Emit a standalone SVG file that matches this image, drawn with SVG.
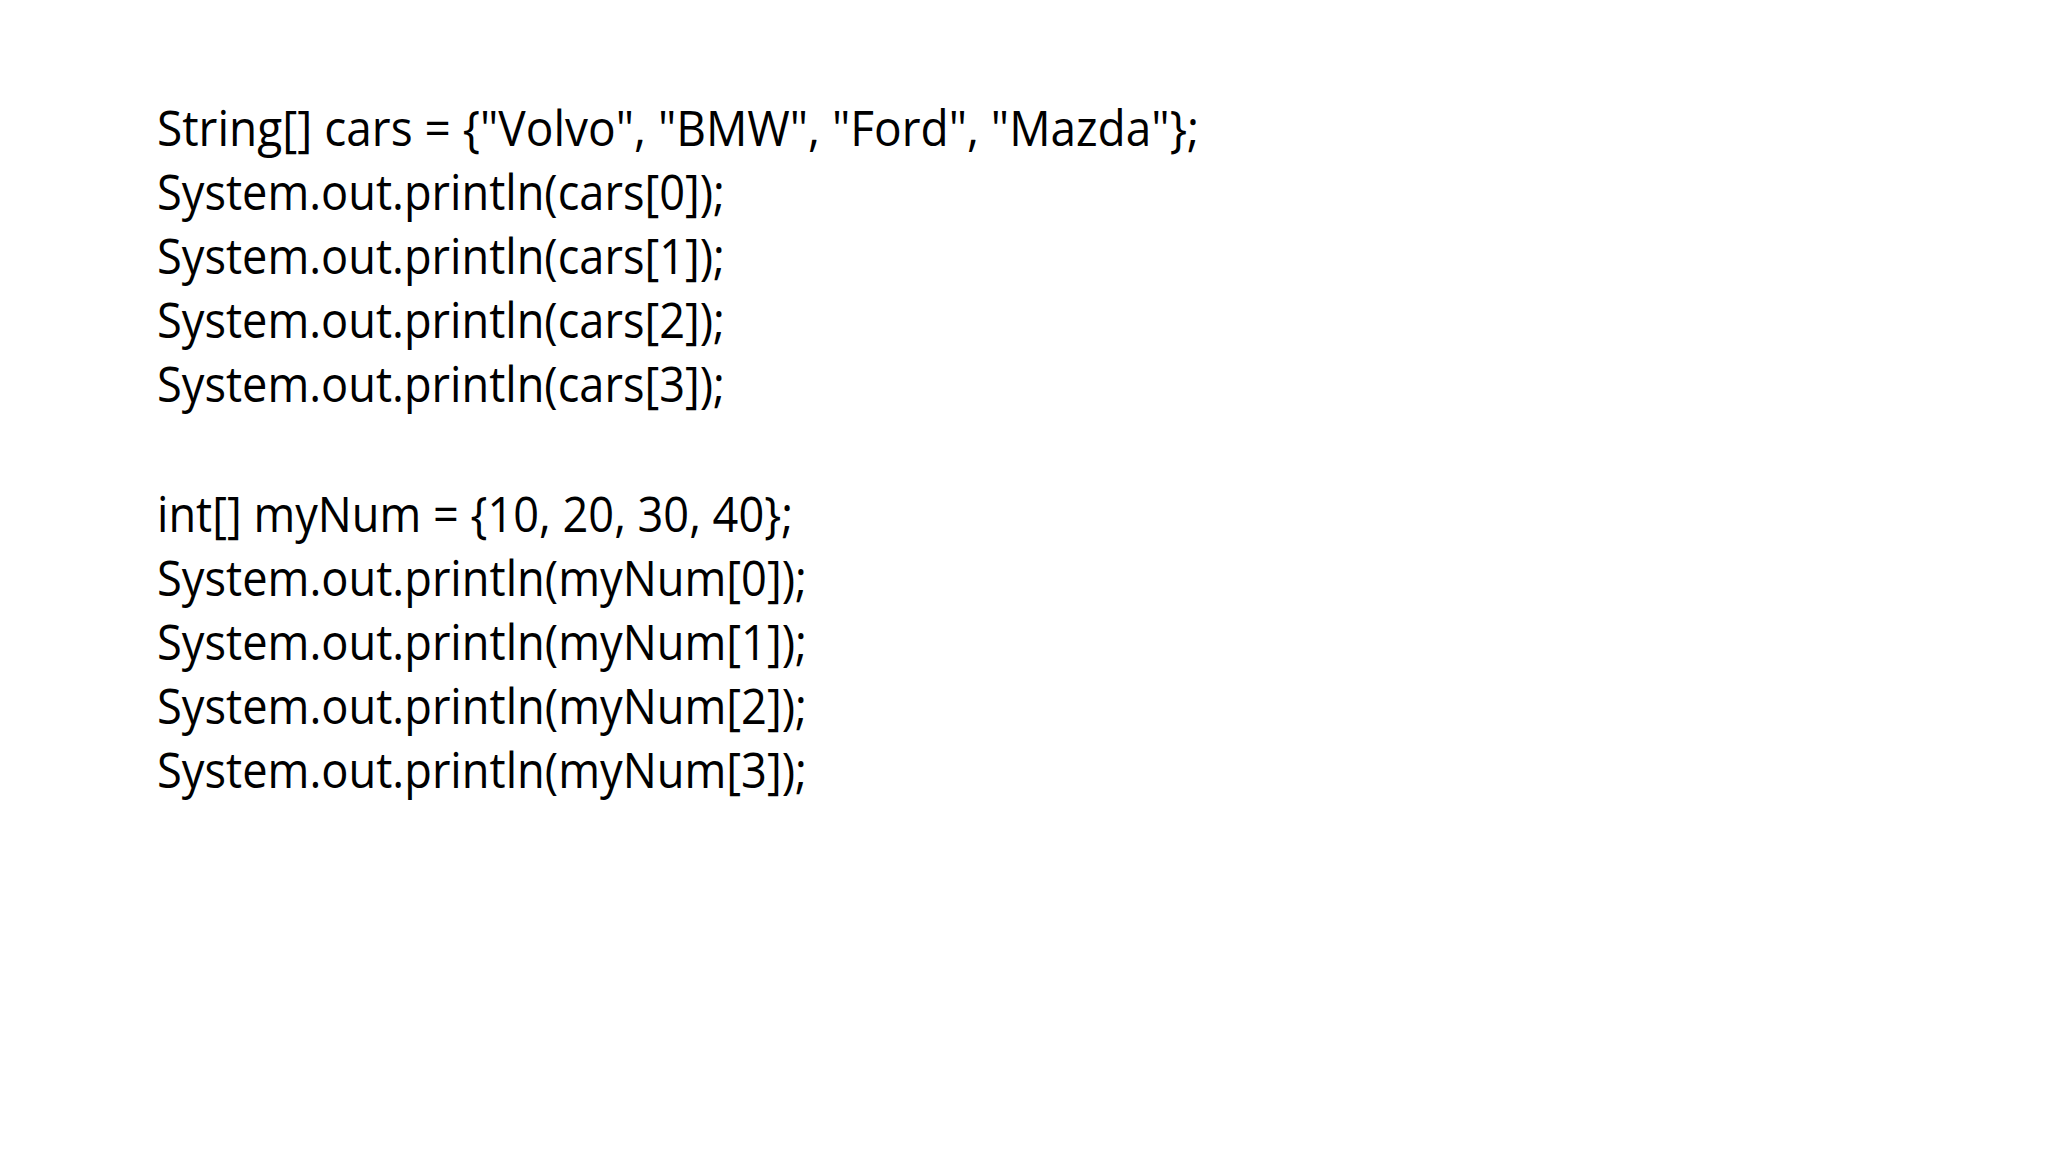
<svg xmlns="http://www.w3.org/2000/svg" width="2048" height="1152" viewBox="0 0 2048 1152">
<style>text{font-family:"Open Sans","Liberation Sans",sans-serif;font-size:50px;fill:#000}</style>
<rect width="2048" height="1152" fill="#fff"/>
<g id="code">
<text x="157" y="146" textLength="1042" lengthAdjust="spacingAndGlyphs">String[] cars = {"Volvo", "BMW", "Ford", "Mazda"};</text>
<text x="157" y="210" textLength="568" lengthAdjust="spacingAndGlyphs">System.out.println(cars[0]);</text>
<text x="157" y="274" textLength="568" lengthAdjust="spacingAndGlyphs">System.out.println(cars[1]);</text>
<text x="157" y="338" textLength="568" lengthAdjust="spacingAndGlyphs">System.out.println(cars[2]);</text>
<text x="157" y="402" textLength="568" lengthAdjust="spacingAndGlyphs">System.out.println(cars[3]);</text>
<text x="157" y="532" textLength="636" lengthAdjust="spacingAndGlyphs">int[] myNum = {10, 20, 30, 40};</text>
<text x="157" y="596" textLength="650" lengthAdjust="spacingAndGlyphs">System.out.println(myNum[0]);</text>
<text x="157" y="660" textLength="650" lengthAdjust="spacingAndGlyphs">System.out.println(myNum[1]);</text>
<text x="157" y="724" textLength="650" lengthAdjust="spacingAndGlyphs">System.out.println(myNum[2]);</text>
<text x="157" y="788" textLength="650" lengthAdjust="spacingAndGlyphs">System.out.println(myNum[3]);</text>
</g>
</svg>
